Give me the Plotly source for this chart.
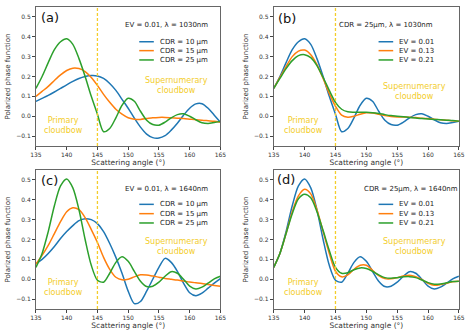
import plotly.graph_objects as go

# ---------------- data ----------------
angles = list(range(135, 166))

# (a) EV = 0.01, lambda = 1030 nm
a_cdr10 = [0.075, 0.09, 0.105, 0.122, 0.14, 0.158, 0.175, 0.19, 0.2, 0.205, 0.203, 0.19, 0.165, 0.13, 0.085,
           0.04, -0.01, -0.055, -0.09, -0.108, -0.11, -0.098, -0.07, -0.035, 0.005, 0.04, 0.062, 0.063, 0.04, 0.005, -0.03]
a_cdr15 = [0.10, 0.125, 0.15, 0.18, 0.208, 0.23, 0.242, 0.24, 0.225, 0.195, 0.155, 0.11, 0.07, 0.035, 0.01,
           -0.008, -0.015, -0.016, -0.012, -0.008, -0.006, -0.006, -0.008, -0.01, -0.012, -0.015, -0.018, -0.02, -0.023, -0.026, -0.03]
a_cdr25 = [0.14, 0.2, 0.27, 0.335, 0.375, 0.39, 0.362, 0.29, 0.2, 0.1, 0.01, -0.078, -0.062, -0.008, 0.055,
           0.09, 0.075, 0.025, -0.02, -0.042, -0.045, -0.03, -0.008, 0.008, 0.012, 0.0, -0.018, -0.033, -0.037, -0.032, -0.026]

# (b) CDR = 25 um, lambda = 1030 nm
b_ev001 = a_cdr25
b_ev013 = [0.14, 0.195, 0.25, 0.3, 0.328, 0.333, 0.31, 0.26, 0.19, 0.115, 0.05, 0.005, -0.005, 0.0, 0.01,
           0.017, 0.016, 0.01, 0.003, -0.002, -0.004, -0.004, -0.005, -0.007, -0.01, -0.012, -0.015, -0.018, -0.02, -0.023, -0.025]
b_ev021 = [0.14, 0.19, 0.24, 0.28, 0.305, 0.31, 0.295, 0.255, 0.195, 0.13, 0.07, 0.035, 0.022, 0.02, 0.02,
           0.02, 0.018, 0.014, 0.008, 0.003, 0.0, -0.003, -0.006, -0.009, -0.012, -0.014, -0.016, -0.018, -0.02, -0.022, -0.025]

# (c) EV = 0.01, lambda = 1640 nm
c_cdr10 = [0.077, 0.1, 0.13, 0.165, 0.205, 0.24, 0.27, 0.295, 0.305, 0.3, 0.28, 0.24, 0.18, 0.11, 0.03,
           -0.06, -0.123, -0.112, -0.06, 0.0, 0.06, 0.105, 0.085, 0.04, -0.02, -0.068, -0.083, -0.07, -0.045, -0.02, 0.003]
c_cdr15 = [0.077, 0.12, 0.17, 0.23, 0.29, 0.34, 0.36, 0.35, 0.31, 0.25, 0.185, 0.11, 0.05, 0.01, -0.003,
           0.0, 0.012, 0.022, 0.021, 0.016, 0.01, 0.004, 0.0, -0.004, -0.009, -0.014, -0.018, -0.022, -0.027, -0.031, -0.035]
c_cdr25 = [0.06, 0.13, 0.24, 0.37, 0.47, 0.505, 0.46, 0.35, 0.2, 0.07, -0.005, -0.015, 0.03, 0.085, 0.113,
           0.09, 0.04, -0.01, -0.037, -0.035, -0.015, 0.015, 0.038, 0.03, 0.0, -0.035, -0.049, -0.04, -0.02, 0.002, 0.015]

# (d) CDR = 25 um, lambda = 1640 nm
d_ev001 = c_cdr25
d_ev013 = [0.06, 0.13, 0.23, 0.34, 0.42, 0.453, 0.43, 0.35, 0.24, 0.13, 0.04, 0.012, 0.022, 0.05, 0.07,
           0.07, 0.045, 0.018, 0.003, 0.002, 0.008, 0.016, 0.02, 0.013, -0.002, -0.02, -0.03, -0.027, -0.02, -0.013, -0.01]
d_ev021 = [0.06, 0.13, 0.23, 0.33, 0.405, 0.428, 0.41, 0.34, 0.245, 0.145, 0.06, 0.03, 0.033, 0.048, 0.057,
           0.054, 0.04, 0.022, 0.008, 0.005, 0.008, 0.012, 0.013, 0.008, -0.004, -0.017, -0.025, -0.024, -0.018, -0.012, -0.01]

cdr_labels = ["CDR = 10 μm", "CDR = 15 μm", "CDR = 25 μm"]
ev_labels = ["EV = 0.01", "EV = 0.13", "EV = 0.21"]
panel_letters = ["(a)", "(b)", "(c)", "(d)"]
panel_info = ["EV = 0.01, λ = 1030nm", "CDR = 25μm, λ = 1030nm",
              "EV = 0.01, λ = 1640nm", "CDR = 25μm, λ = 1640nm"]
x_ticks = [135, 140, 145, 150, 155, 160, 165]
y_ticks = [-0.1, 0.0, 0.1, 0.2, 0.3, 0.4, 0.5]
bow_angle = 145

# ---------------- styling ----------------
colors = ["#1f77b4", "#ff7f0e", "#2ca02c"]
gold = "#f3cd2a"
FONT = "DejaVu Sans"

panels = [
    dict(series=[a_cdr10, a_cdr15, a_cdr25], labels=cdr_labels,
         xd=[0.0648, 0.4641], yd=[0.5576, 0.9788],
         letter=(0.075, 0.928), info=(0.709, 0.870), leg=(0.560, 0.639, 0.662, [0.750, 0.686, 0.619]),
         prim=(139.5, -0.045), sup=(157.9, 0.157)),
    dict(series=[b_ev001, b_ev013, b_ev021], labels=ev_labels,
         xd=[0.5795, 0.9804], yd=[0.5576, 0.9788],
         letter=(0.070, 0.919), info=(0.607, 0.870), leg=(0.566, 0.645, 0.663, [0.750, 0.686, 0.619]),
         prim=(139.9, -0.047), sup=(157.8, 0.125)),
    dict(series=[c_cdr10, c_cdr15, c_cdr25], labels=cdr_labels,
         xd=[0.0648, 0.4641], yd=[0.0636, 0.4848],
         letter=(0.075, 0.928), info=(0.709, 0.861), leg=(0.560, 0.639, 0.662, [0.753, 0.686, 0.619]),
         prim=(139.5, -0.040), sup=(157.9, 0.166)),
    dict(series=[d_ev001, d_ev013, d_ev021], labels=ev_labels,
         xd=[0.5795, 0.9804], yd=[0.0636, 0.4848],
         letter=(0.066, 0.935), info=(0.743, 0.861), leg=(0.566, 0.645, 0.663, [0.753, 0.686, 0.619]),
         prim=(139.9, -0.044), sup=(157.8, 0.164)),
]

fig = go.Figure()
shapes = []
annotations = []
layout_axes = {}

for i, p in enumerate(panels):
    n = i + 1
    xa = "x" if n == 1 else f"x{n}"
    ya = "y" if n == 1 else f"y{n}"
    for s, vals in enumerate(p["series"]):
        fig.add_trace(go.Scatter(x=angles, y=vals, mode="lines",
                                 line=dict(color=colors[s], width=1.5, shape="spline", smoothing=0.8),
                                 name=p["labels"][s], showlegend=False, xaxis=xa, yaxis=ya))
    axis_common = dict(showgrid=False, zeroline=False, showline=True, mirror=True, linecolor="#666", linewidth=1,
                       ticks="outside", ticklen=3, tickwidth=1, tickcolor="#444",
                       tickfont=dict(family=FONT, size=6, color="#333"))
    layout_axes["xaxis" if n == 1 else f"xaxis{n}"] = dict(
        axis_common, domain=p["xd"], range=[135, 165], tickvals=x_ticks, anchor=ya,
        title=dict(text="Scattering angle (°)", font=dict(family=FONT, size=7.5, color="#333"), standoff=2))
    layout_axes["yaxis" if n == 1 else f"yaxis{n}"] = dict(
        axis_common, domain=p["yd"], range=[-0.15, 0.55], tickvals=y_ticks, tickformat=".1f", anchor=xa,
        title=dict(text="Polarized phase function", font=dict(family=FONT, size=7, color="#333"), standoff=4))

    xdom = f"{xa} domain"
    ydom = f"{ya} domain"
    # cloudbow boundary
    shapes.append(dict(type="line", xref=xa, yref=ydom, x0=bow_angle, x1=bow_angle, y0=0, y1=1,
                       line=dict(color=gold, width=1.3, dash="3px,2px")))
    # legend (manual, compact)
    lx0, lx1, tx, rows = p["leg"]
    for s in range(3):
        shapes.append(dict(type="line", xref=xdom, yref=ydom, x0=lx0, x1=lx1, y0=rows[s], y1=rows[s],
                           line=dict(color=colors[s], width=1.5)))
        annotations.append(dict(text=p["labels"][s], xref=xdom, yref=ydom, x=tx, y=rows[s], xanchor="left",
                                yanchor="middle", showarrow=False, font=dict(family=FONT, size=7, color="#222")))
    annotations.append(dict(text=panel_letters[i], xref=xdom, yref=ydom, x=p["letter"][0], y=p["letter"][1],
                            xanchor="center", yanchor="middle", showarrow=False,
                            font=dict(family=FONT, size=13, color="#111")))
    annotations.append(dict(text=panel_info[i], xref=xdom, yref=ydom, x=p["info"][0], y=p["info"][1],
                            xanchor="center", yanchor="middle", showarrow=False,
                            font=dict(family=FONT, size=7, color="#222")))
    annotations.append(dict(text="Primary<br>cloudbow", xref=xa, yref=ya, x=p["prim"][0], y=p["prim"][1],
                            xanchor="center", yanchor="middle", showarrow=False,
                            font=dict(family=FONT, size=8, color=gold)))
    annotations.append(dict(text="Supernumerary<br>cloudbow", xref=xa, yref=ya, x=p["sup"][0], y=p["sup"][1],
                            xanchor="center", yanchor="middle", showarrow=False,
                            font=dict(family=FONT, size=8, color=gold)))

fig.update_layout(
    width=474, height=330, margin=dict(l=0, r=0, t=0, b=0),
    paper_bgcolor="white", plot_bgcolor="white",
    shapes=shapes, annotations=annotations, showlegend=False,
    **layout_axes,
)

fig.write_html("out.html")
